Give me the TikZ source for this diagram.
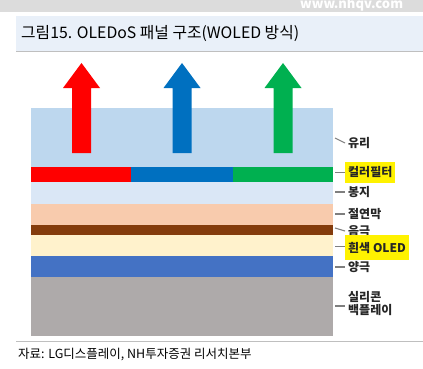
\documentclass[tikz,border=0pt]{standalone}
\usepackage{fontspec}
\setmainfont{Noto Sans CJK KR}
\definecolor{topgray}{HTML}{DCDCDC}
\definecolor{headbg}{HTML}{E9F0F9}
\definecolor{headline}{HTML}{BFBFBF}
\definecolor{glass}{HTML}{BDD7EE}
\definecolor{encap}{HTML}{DAE7F6}
\definecolor{insul}{HTML}{F8CBAD}
\definecolor{cathode}{HTML}{843C0C}
\definecolor{oled}{HTML}{FFF2CC}
\definecolor{anode}{HTML}{4472C4}
\definecolor{backpl}{HTML}{AEAAAA}
\definecolor{cfred}{HTML}{FF0000}
\definecolor{cfblue}{HTML}{0070C0}
\definecolor{cfgreen}{HTML}{00B050}
\definecolor{hl}{HTML}{FFF200}
\definecolor{leader}{HTML}{7F7F7F}
\begin{document}
\begin{tikzpicture}[x=1pt,y=-1pt,
  lbl/.style={anchor=west,inner xsep=3pt,inner ysep=0pt,font=\fontsize{12}{14}\selectfont\bfseries,text=black!85},
  hllbl/.style={lbl,fill=hl,minimum height=21pt},
  lead/.style={draw=leader,line width=1.1pt}]
\useasboundingbox (0,0) rectangle (423,369);
\fill[white] (0,0) rectangle (423,369);
% top band
\fill[topgray] (0,0) rectangle (423,12);
\begin{scope}
\clip (0,0) rectangle (423,12);
\node[anchor=base west,text=white,font=\fontsize{13}{14}\selectfont\bfseries,inner sep=0pt] (web) at (300,9) {www.nhqv.com};
\end{scope}
% header
\fill[headbg] (16,16) rectangle (423,51);
\draw[headline,line width=1pt] (16,51.5) -- (423,51.5);
\node[anchor=west,inner sep=0pt,font=\fontsize{15.8}{17}\selectfont] (title) at (21,34) {그림15. OLEDoS 패널 구조(WOLED 방식)};
% layers
\fill[glass] (30.5,108) rectangle (333,167);
\fill[cfred] (30.5,167) rectangle (131,182);
\fill[cfblue] (131,167) rectangle (233,182);
\fill[cfgreen] (233,167) rectangle (333,182);
\fill[encap] (30.5,182) rectangle (333,204);
\fill[insul] (30.5,204) rectangle (333,225);
\fill[cathode] (30.5,225) rectangle (333,235);
\fill[oled] (30.5,235) rectangle (333,256);
\fill[anode] (30.5,256) rectangle (333,277);
\fill[backpl] (30.5,277) rectangle (333,336);
% arrows
\foreach \cx/\col in {81.5/cfred,182/cfblue,283/cfgreen}{
  \fill[\col] (\cx-9.5,153) -- (\cx-9.5,88) -- (\cx-18.5,88) -- (\cx,63) -- (\cx+18.5,88) -- (\cx+9.5,88) -- (\cx+9.5,153) -- cycle;
}
% labels
\coordinate (c1) at (335,138);
\coordinate (c2) at (335,172.5);
\coordinate (c3) at (335,192);
\coordinate (c4) at (335,214);
\coordinate (c5) at (335,228);
\coordinate (c6) at (335,246.5);
\coordinate (c7) at (335,267);
\coordinate (c8) at (335,306);
\node[lbl] (l1) at (345,143) {유리};
\node[hllbl] (l2) at (345,172.5) {컬러필터};
\node[lbl] (l3) at (345,192) {봉지};
\node[lbl] (l4) at (345,214) {절연막};
\node[lbl] (l5) at (345,231) {음극};
\node[hllbl,minimum height=25pt] (l6) at (345,247.5) {흰색 OLED};
\node[lbl] (l7) at (345,267) {양극};
\node[lbl,align=left] (l8) at (345,304) {실리콘\\[-1pt]백플레이};
\draw[lead] (c1) -- (l1.west);
\draw[lead] (c2) -- (l2.west);
\draw[lead] (c3) -- (l3.west);
\draw[lead] (c4) -- (l4.west);
\draw[lead] (c5) -- (l5.west);
\draw[lead] (c6) -- (c6 -| l6.west);
\draw[lead] (c7) -- (l7.west);
\draw[lead] (c8) -- (c8 -| l8.west);
% bottom
\draw[headline,line width=1pt] (16,341) -- (423,341);
\node[anchor=west,inner sep=0pt,font=\fontsize{12.5}{14}\selectfont] (src) at (18,355) {자료: LG디스플레이, NH투자증권 리서치본부};
\end{tikzpicture}
\end{document}
